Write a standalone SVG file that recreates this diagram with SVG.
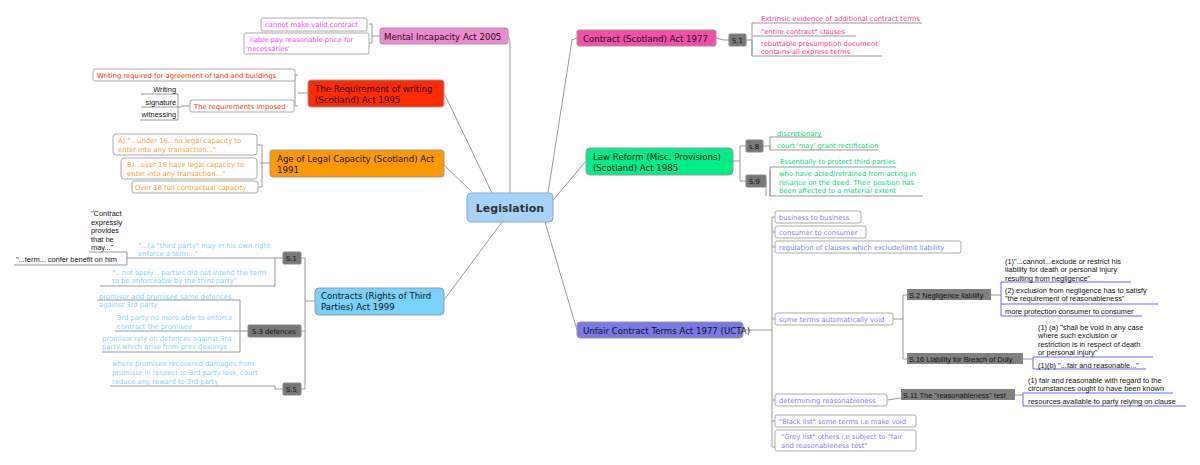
<svg xmlns="http://www.w3.org/2000/svg" width="1200" height="465" viewBox="0 0 1200 465">
<style>
.m{stroke:#888;stroke-width:1}
.c{fill:none;stroke:#999;stroke-width:1}
.lf{fill:#fff;stroke:#aaa;stroke-width:1}
.t{font-family:"DejaVu Sans",sans-serif;font-size:8.6px;fill:#111}
.l{font-family:"DejaVu Sans",sans-serif;font-size:6.8px}
.b{font-family:"Liberation Sans",Arial,sans-serif;font-size:7.4px;fill:#111}
.s{fill:#777;stroke:#888}
.pk{fill:#ff44ff}.rd{fill:#ff3300}.or{fill:#ffa030}.lb{fill:#80d4ff}.mg{fill:#ff3399}.gr{fill:#00dd77}.pu{fill:#8080ff}
.u{fill:none;stroke:#aaa}
.ub{fill:none;stroke:#6666ff}
</style>
<g id="connectors">
<path class="c" d="M508,36 L510,40 L510,193 M444,93 L492,193 M444,165 L470,190 M444,300 L502,222 M577,38 L572,40 L548,193 M586,161 L553,200 M577,330 L545,222"/>
<path class="c" d="M380,36 H372 M369,24 H372 V43 H369 M308,93 H298 M295,75 V106 H298 M295,75 H298 M270,163 H260 M257,145 H262 V187 H258"/>
<path class="c" d="M190,106 H181 M141,94 H178 V120 H140 M141,107 H181"/>
<path class="c" d="M315,301 H305 M301,258 H305 V389 H301 M301,331 H305"/>
<path class="c" d="M14,265 H127 V258 H283 M89,252 H127 V258 M275,258 V286 H100 M283,389 H275 V386 H110 M248,331 H240 V300 H97 M240,331 H115 M240,331 V352 H102"/>
<path class="c" d="M716,38 L724,40 H729 M746,40 H752 V56 M752,23 V56 M752,23 H922 M752,36 H856 M752,56 H882"/>
<path class="c" d="M733,161 H740 M740,146 V181 H746 M740,146 H746 M763,146 H770 V150 M770,137 V150 M770,137 H822 M770,150 H878 M766,181 V196 M770,167 H896 M770,196 H923 M770,167 V196 V170"/>
<path class="c" d="M743,330 H772 M772,217 V447 M772,217 H775 M772,232 H775 M772,247 H775 M772,319 H775 M772,400 H775 M772,421 H775 M772,447 H775 M893,319 H903 M903,295 V359 M903,295 H907 M903,359 H907 M887,400 L901,398 M991,295 H1001"/>
</g>
<g id="legislation"><rect x="467" y="193" width="86" height="29" rx="4" fill="#a7d3fb" stroke="#8aaad0"/><text x="510" y="212" text-anchor="middle" font-family="DejaVu Sans,sans-serif" font-size="11" font-weight="bold" fill="#333">Legislation</text></g>
<g id="mental"><rect x="380" y="28" width="128" height="16" rx="2" fill="#f088d0" stroke="#999"/><text class="t" x="384" y="39.5">Mental Incapacity Act 2005</text>
<rect class="lf" x="261" y="18" width="106" height="13" rx="2"/><text class="l pk" x="265" y="27">cannot make valid contract</text>
<rect class="lf" x="244" y="33" width="125" height="21" rx="2"/><text class="l pk" x="250" y="42">liable pay reasonable price for</text><text class="l pk" x="246" y="51">'necessaries'</text></g>
<g id="writing"><rect x="308" y="80" width="136" height="27" rx="3" fill="#ff2a00" stroke="#999"/><text class="t" x="315" y="92">The Requirement of writing</text><text class="t" x="315" y="103">(Scotland) Act 1995</text>
<rect class="lf" x="93" y="69" width="202" height="12" rx="2"/><text class="l rd" x="97" y="78">Writing required for agreement of land and buildings</text>
<rect class="lf" x="190" y="100" width="104" height="12" rx="2"/><text class="l rd" x="194" y="109">The requirements imposed</text>
<text class="b" x="176" y="92" text-anchor="end">Writing</text><text class="b" x="176" y="105" text-anchor="end">signature</text><text class="b" x="176" y="117" text-anchor="end">witnessing</text></g>
<g id="age"><rect x="270" y="150" width="174" height="27" rx="3" fill="#ff9900" stroke="#999"/><text class="t" x="277" y="162">Age of Legal Capacity (Scotland) Act</text><text class="t" x="277" y="173">1991</text>
<rect class="lf" x="113" y="134" width="144" height="21" rx="3"/><text class="l or" x="118" y="143">A) "...under 16...no legal capacity to</text><text class="l or" x="118" y="152">enter into any transaction..."</text>
<rect class="lf" x="121" y="158" width="136" height="21" rx="3"/><text class="l or" x="127" y="167">B)...over 16 have legal capacity to</text><text class="l or" x="127" y="176">enter into any transaction..."</text>
<rect class="lf" x="132" y="181" width="126" height="12" rx="2"/><text class="l or" x="135" y="190">Over 18 full contractual capacity</text></g>
<g id="third"><rect x="315" y="288" width="129" height="27" rx="4" fill="#77d3fb" stroke="#999"/><text class="t" x="321" y="299">Contracts (Rights of Third</text><text class="t" x="321" y="310">Parties) Act 1999</text>
<rect class="s" x="283" y="252" width="18" height="12" rx="1"/><text class="l" x="286" y="261" fill="#111">S.1</text>
<rect class="s" x="248" y="325" width="53" height="12" rx="1"/><text class="l" x="252" y="334" fill="#111">S.3 defences</text>
<rect class="s" x="283" y="383" width="18" height="12" rx="1"/><text class="l" x="286" y="392" fill="#111">S.5</text>
<text class="l lb" x="138" y="248">"...(a "third party" may in his own right</text><text class="l lb" x="138" y="256">enforce a term..."</text>
<text class="b" x="91" y="216">"Contract</text><text class="b" x="91" y="225">expressly</text><text class="b" x="91" y="233">provides</text><text class="b" x="91" y="242">that he</text><text class="b" x="91" y="250">may..."</text>
<text class="b" x="16" y="262">"...term... confer benefit on him</text>
<text class="l lb" x="112" y="275">"...not apply... parties did not intend the term</text><text class="l lb" x="112" y="283">to be enforceable by the third party"</text>
<text class="l lb" x="99" y="299">promisor and promisee same defences</text><text class="l lb" x="99" y="307">against 3rd party</text>
<text class="l lb" x="117" y="320">3rd party no more able to enforce</text><text class="l lb" x="117" y="329">contract the promisee</text>
<text class="l lb" x="102" y="341">promisor rely on defences against 3rd</text><text class="l lb" x="102" y="349">party which arise from prev dealings</text>
<text class="l lb" x="112" y="366">where promisee recovered damages from</text><text class="l lb" x="112" y="375">promisor in respect to 3rd party loss, court</text><text class="l lb" x="112" y="384">reduce any reward to 3rd party</text></g>
<g id="contract77"><rect x="577" y="30" width="139" height="16" rx="2" fill="#f24fa8" stroke="#999"/><text class="t" x="583" y="41.5">Contract (Scotland) Act 1977</text>
<rect class="s" x="729" y="34" width="17" height="12" rx="1"/><text class="l" x="732" y="43" fill="#111">S.1</text>
<text class="l mg" x="761" y="21">Extrinsic evidence of additional contract terms</text>
<text class="l mg" x="761" y="34">"entire contract" clauses</text>
<text class="l mg" x="761" y="46">rebuttable presumption document</text><text class="l mg" x="761" y="54">contains all express terms</text></g>
<g id="lawreform"><rect x="586" y="148" width="147" height="27" rx="4" fill="#00ee88" stroke="#999"/><text class="t" x="593" y="160">Law Reform (Misc. Provisions)</text><text class="t" x="593" y="171">(Scotland) Act 1985</text>
<rect class="s" x="746" y="140" width="17" height="12" rx="1"/><text class="l" x="749" y="149" fill="#111">s.8</text>
<rect class="s" x="746" y="175" width="20" height="12" rx="1"/><text class="l" x="749" y="184" fill="#111">S.9</text>
<text class="l gr" x="777" y="136">discretionary</text><text class="l gr" x="777" y="148">court 'may' grant rectification</text>
<text class="l gr" x="780" y="164">Essentially to protect third parties</text>
<text class="l gr" x="779" y="176">who have acted/refrained from acting in</text><text class="l gr" x="779" y="185">reliance on the deed. Their position has</text><text class="l gr" x="779" y="193">been affected to a material extent</text></g>
<g id="ucta"><rect x="577" y="322" width="166" height="16" rx="3" fill="#7878e8" stroke="#999"/><text class="t" x="583" y="333.5">Unfair Contract Terms Act 1977 (UCTA)</text>
<rect class="lf" x="775" y="211" width="86" height="12" rx="2"/><text class="l pu" x="779" y="220">business to business</text>
<rect class="lf" x="775" y="226" width="91" height="12" rx="2"/><text class="l pu" x="779" y="235">consumer to consumer</text>
<rect class="lf" x="775" y="241" width="186" height="12" rx="2"/><text class="l pu" x="779" y="250">regulation of clauses which exclude/limit liability</text>
<rect class="lf" x="775" y="313" width="118" height="12" rx="2"/><text class="l pu" x="779" y="322">some terms automatically void</text>
<rect class="lf" x="775" y="394" width="112" height="12" rx="2"/><text class="l pu" x="779" y="403">determining reasonableness</text>
<rect class="lf" x="775" y="415" width="141" height="12" rx="2"/><text class="l pu" x="779" y="424">"Black list" some terms i.e make void</text>
<rect class="lf" x="775" y="430" width="141" height="21" rx="2"/><text class="l pu" x="781" y="439">"Grey list" others i.e subject to "fair</text><text class="l pu" x="781" y="448">and reasonableness test"</text>
<rect x="907" y="289" width="84" height="11" fill="#808080"/><text class="b" x="909" y="297.5">S.2 Negligence liability</text>
<rect x="907" y="353" width="116" height="11" fill="#808080"/><text class="b" x="909" y="361.5">S.16 Liability for Breach of Duty</text>
<rect x="901" y="389" width="114" height="11" fill="#808080"/><text class="b" x="903" y="397.5">S.11 The "reasonableness" test</text>
<path class="ub" d="M1001,282 H1131 M1001,282 V316 H1142 M1001,304 H1158 M1033,357 H1153 M1033,357 V369 H1146 M1023,393 H1173 M1023,393 V406 H1186"/>
<path class="c" d="M1023,359 H1033 M1015,395 H1023"/>
<text class="b" x="1005" y="264">(1)"...cannot...exclude or restrict his</text><text class="b" x="1005" y="272">liability for death or personal injury</text><text class="b" x="1005" y="281">resulting from negligence"</text>
<text class="b" x="1005" y="293">(2) exclusion from negligence has to satisfy</text><text class="b" x="1005" y="301">"the requirement of reasonableness"</text>
<text class="b" x="1005" y="314">more protection consumer to consumer</text>
<text class="b" x="1038" y="330">(1) (a) "shall be void in any case</text><text class="b" x="1038" y="338">where such exclusion or</text><text class="b" x="1038" y="347">restriction is in respect of death</text><text class="b" x="1038" y="355">or personal injury"</text>
<text class="b" x="1038" y="368">(1)(b) "...fair and reasonable..."</text>
<text class="b" x="1028" y="383">(1) fair and reasonable with regard to the</text><text class="b" x="1028" y="391">circumstances ought to have been known</text>
<text class="b" x="1028" y="404">resources available to party relying on clause</text></g>
</svg>
